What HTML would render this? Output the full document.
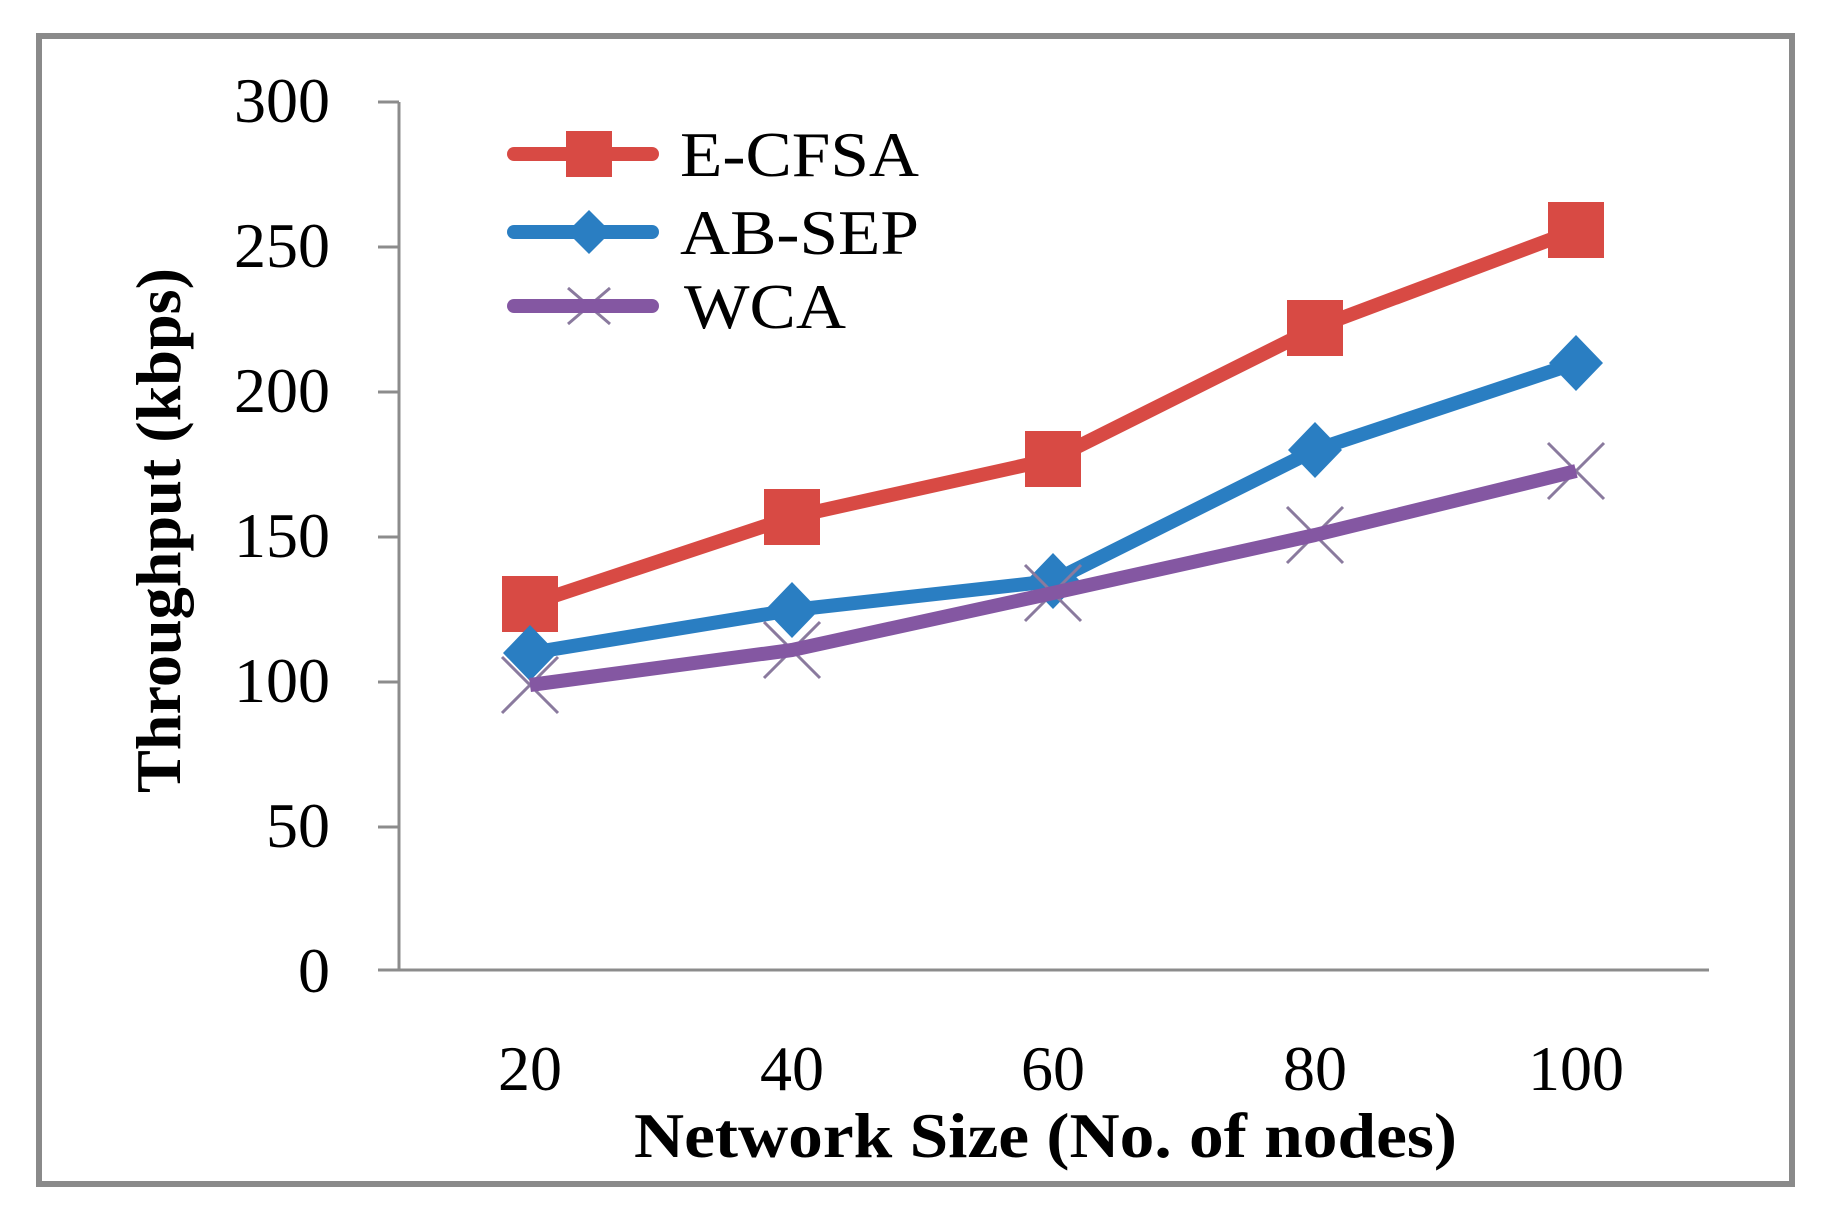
<!DOCTYPE html>
<html><head><meta charset="utf-8"><style>html,body{margin:0;padding:0;background:#fff}svg{display:block}</style></head>
<body>
<svg width="1833" height="1214" viewBox="0 0 1833 1214" xmlns="http://www.w3.org/2000/svg" font-family="'Liberation Serif', serif">
<rect x="0" y="0" width="1833" height="1214" fill="#fff"/>
<rect x="39" y="36" width="1753" height="1148" fill="none" stroke="#8a8a8a" stroke-width="6"/>
<g stroke="#8c8c8c" stroke-width="3" fill="none">
<line x1="399" y1="102" x2="399" y2="971"/>
<line x1="378" y1="970" x2="1709" y2="970"/>
<line x1="378" y1="102" x2="399" y2="102"/>
<line x1="378" y1="247" x2="399" y2="247"/>
<line x1="378" y1="392" x2="399" y2="392"/>
<line x1="378" y1="537" x2="399" y2="537"/>
<line x1="378" y1="682" x2="399" y2="682"/>
<line x1="378" y1="827" x2="399" y2="827"/>
</g>
<g font-size="64" text-anchor="end" fill="#000">
<text x="330" y="122">300</text>
<text x="330" y="267">250</text>
<text x="330" y="412">200</text>
<text x="330" y="557">150</text>
<text x="330" y="702">100</text>
<text x="330" y="847">50</text>
<text x="330" y="992">0</text>
</g>
<g font-size="64" text-anchor="middle" fill="#000">
<text x="530" y="1090">20</text>
<text x="792" y="1090">40</text>
<text x="1053" y="1090">60</text>
<text x="1315" y="1090">80</text>
<text x="1576" y="1090">100</text>
</g>
<text x="634" y="1157" font-size="64" font-weight="bold" textLength="823" lengthAdjust="spacingAndGlyphs">Network Size (No. of nodes)</text>
<text transform="translate(180,793) rotate(-90)" font-size="64" font-weight="bold" textLength="525" lengthAdjust="spacingAndGlyphs">Throughput (kbps)</text>

<polyline points="530,604 792,517 1053,459 1315,328 1576,230" fill="none" stroke="#d84a44" stroke-width="14" stroke-linejoin="round"/>
<g fill="#d84a44">
<rect x="502" y="576" width="56" height="56"/>
<rect x="764" y="489" width="56" height="56"/>
<rect x="1025" y="431" width="56" height="56"/>
<rect x="1287" y="300" width="56" height="56"/>
<rect x="1548" y="202" width="56" height="56"/>
</g>
<polyline points="530,653 792,610 1053,581 1315,450 1576,363" fill="none" stroke="#2a7ec2" stroke-width="14" stroke-linejoin="round"/>
<g fill="#2a7ec2">
<polygon points="530,625 557,653 530,681 503,653"/>
<polygon points="792,582 819,610 792,638 765,610"/>
<polygon points="1053,553 1080,581 1053,609 1026,581"/>
<polygon points="1315,422 1342,450 1315,478 1288,450"/>
<polygon points="1576,335 1603,363 1576,391 1549,363"/>
</g>
<g stroke="#8a7a9e" stroke-width="3">
<path d="M502,657 L558,713 M558,657 L502,713"/>
<path d="M764,622 L820,678 M820,622 L764,678"/>
<path d="M1025,565 L1081,621 M1081,565 L1025,621"/>
<path d="M1287,507 L1343,563 M1343,507 L1287,563"/>
<path d="M1548,443 L1604,499 M1604,443 L1548,499"/>
</g>
<polyline points="530,685 792,650 1053,593 1315,535 1576,471" fill="none" stroke="#8457a2" stroke-width="14" stroke-linejoin="round"/>

<line x1="514" y1="154" x2="652" y2="154" stroke="#d84a44" stroke-width="14" stroke-linecap="round"/>
<rect x="566" y="131" width="46" height="46" fill="#d84a44"/>
<line x1="514" y1="232" x2="652" y2="232" stroke="#2a7ec2" stroke-width="14" stroke-linecap="round"/>
<polygon points="589,210 611,232 589,254 567,232" fill="#2a7ec2"/>
<path d="M568,288 L610,324 M610,288 L568,324" stroke="#8a7a9e" stroke-width="3"/>
<line x1="514" y1="306" x2="652" y2="306" stroke="#8457a2" stroke-width="14" stroke-linecap="round"/>
<g font-size="64" fill="#000">
<text x="680" y="176" textLength="239" lengthAdjust="spacingAndGlyphs">E-CFSA</text>
<text x="680" y="254" textLength="239" lengthAdjust="spacingAndGlyphs">AB-SEP</text>
<text x="684" y="328" textLength="162" lengthAdjust="spacingAndGlyphs">WCA</text>
</g>
</svg>
</body></html>
